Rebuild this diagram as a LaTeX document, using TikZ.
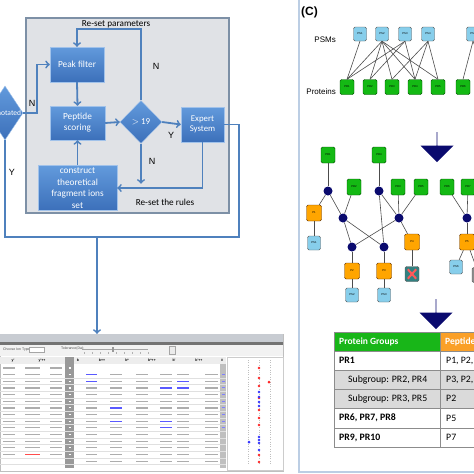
\documentclass[tikz,border=0pt]{standalone}
\usepackage{fontspec}
\setmainfont{Carlito}
\newfontfamily\arialfont{Liberation Sans}
\usepackage{tikz}
\usetikzlibrary{shapes.geometric,shapes.arrows,arrows,calc}
\definecolor{flowblue}{RGB}{79,129,189}
\definecolor{boxtop}{RGB}{98,154,220}
\definecolor{boxbot}{RGB}{60,112,186}
\definecolor{panelgray}{RGB}{224,226,230}
\definecolor{panelline}{RGB}{125,144,166}
\definecolor{psmblue}{RGB}{135,206,235}
\definecolor{protgreen}{RGB}{20,185,20}
\definecolor{peporange}{RGB}{255,165,0}
\definecolor{dotnavy}{RGB}{10,10,110}
\definecolor{framecol}{RGB}{188,206,228}
\definecolor{hdrgreen}{RGB}{24,182,24}
\definecolor{hdrorange}{RGB}{250,160,40}
\definecolor{rowgray}{RGB}{218,218,218}
\definecolor{shotgray}{RGB}{200,204,210}

\begin{document}
\begin{tikzpicture}[
        x=1pt, y=-1pt,
        fbox/.style={rectangle, draw=boxtop!60!white, top color=boxtop, bottom color=boxbot, text=white, align=center, inner sep=1pt, font=\fontsize{9.3}{11}\selectfont},
        fdiam/.style={diamond, draw=boxtop!60!white, top color=boxtop, bottom color=boxbot, text=white, inner sep=0pt, font=\fontsize{9}{10}\selectfont},
        flow/.style={draw=flowblue, line width=1.8pt},
        yn/.style={font=\arialfont\fontsize{9}{10}\selectfont},
        note/.style={font=\fontsize{9.2}{10}\selectfont},
        psm/.style={rectangle, rounded corners=1.5pt, draw=black!65, fill=psmblue, minimum width=13pt, minimum height=14pt, inner sep=0pt, font=\arialfont\fontsize{2.8}{3}\selectfont},
        prot/.style={psm, fill=protgreen, draw=green!30!black},
        pep/.style={psm, fill=peporange, draw=orange!40!black},
        hub/.style={circle, fill=dotnavy, minimum size=9pt, inner sep=0pt},
        link/.style={draw=black!70, line width=0.6pt},
        bigarrow/.style={single arrow, fill=dotnavy, shape border rotate=270, minimum width=33pt, minimum height=30pt, single arrow head extend=8pt, inner sep=0pt},
        cellbar/.style={draw=black!32, line width=1.2pt},
        hdr/.style={font=\arialfont\fontsize{3.5}{4}\selectfont, inner sep=0pt},
        cell/.style={font=\fontsize{9.8}{11}\selectfont, anchor=west, inner sep=0pt}
    ]
        \useasboundingbox (0,0) rectangle (474,474);
        \clip (0,0) rectangle (474,474);

        % search loop
        \fill[panelgray] (26,18) rectangle (229,213);
        \draw[panelline, line width=1.1pt] (26,18) rectangle (229,213);

        \node[fbox, minimum width=54pt, minimum height=35pt] (pf) at (77,64.5) {Peak filter};
        \node[fbox, minimum width=55pt, minimum height=34pt] (ps) at (77.5,123) {Peptide\\scoring};
        \node[fdiam, minimum width=42pt, minimum height=43pt] (gt) at (141,122) {$>$ 19};
        \node[fbox, minimum width=43pt, minimum height=35pt, font=\fontsize{8.8}{10.5}\selectfont] (es) at (202.5,124.5) {Expert\\System};
        \node[fbox, minimum width=79pt, minimum height=45pt, inner sep=0pt, font=\fontsize{9.3}{11.4}\selectfont] (ct) at (77.5,188) {construct\\theoretical\\fragment ions\\set};
        \node[fdiam, minimum width=36pt, minimum height=54pt, font=\fontsize{7.5}{8}\selectfont] (acc) at (5,113) {\makebox[0pt]{Annotated}};

        \coordinate (mrg) at (97,237);
        \coordinate (loopr) at (239,237);

        \draw[flow,->] (acc.east) -- ++(14,0) |- (pf.west);
        \draw[flow,->] (pf.south) -- (ps.north);
        \draw[flow,->] (ps.east) -- (gt.west);
        \draw[flow,->] (gt.east) -- (es.west);
        \draw[flow,->] (gt.north) -- ++(0,-71) -| (pf.north);
        \draw[flow,->] (gt.south) -- ++(0,40);
        \draw[flow,->] (es.south) |- (ct.east);
        \draw[flow,->] (ct.north) -- (ps.south);
        \draw[flow] (es.east) -| (loopr) -| (acc.south);

        \node[note] (rsp) at (116,24.5) {Re-set parameters};
        \node[note] (rsr) at (165,202) {Re-set the rules};
        \node[yn] at (32,103) {N};
        \node[yn] at (156,66) {N};
        \node[yn] at (152,161) {N};
        \node[yn] at (171,135) {Y};
        \node[yn] at (12,172) {Y};

        % result screenshot
        \node[rectangle, draw=black!25, fill=white, minimum width=283pt, minimum height=137pt, inner sep=0pt] (shot) at (141.5,402.5) {};
        \draw[flow,->] (mrg) -- (mrg |- shot.north);
        \fill[shotgray] (0,334) rectangle (283,342);
        \fill[black!55] (0,342) rectangle (283,344.5);
        \fill[black!5] (0,344.5) rectangle (283,356);
        \node[hdr, anchor=west, text=black!70] at (3,350) {Choose Ion Type:};
        \draw[black!35, fill=white] (29,347.5) rectangle (44,352.5);
        \node[hdr, anchor=west, text=black!70] at (61,349) {Tolerance(Da):};
        \draw[black!35, line width=0.8pt] (82,349) -- (148,349);
        \foreach \t in {84,92,...,148} \draw[black!30, line width=0.4pt] (\t,352) -- (\t,353.5);
        \fill[black!40] (112,347) rectangle (114,351.5);
        \draw[black!35, fill=black!8] (169,346) rectangle (175,354);
        \fill[black!7] (0,357) rectangle (226,364);
        \foreach \h/\x in {{y'}/13,{y'++}/42,seq/69,b/78,b++/102,b*/127,b*++/152,b'/174,b'++/199,\#/222}
            \node[hdr, font=\arialfont\bfseries\fontsize{3.5}{4}\selectfont] at (\x,360.5) {\h};
        \fill[black!40] (65,357) rectangle (74,468);
        \fill[black!25] (220,364) rectangle (226,468);
        \foreach \k in {0,...,13} {
            \pgfmathsetmacro\yy{368+6.65*\k}
            \foreach \a/\b in {3/15,25/40,50/62}
                \draw[cellbar] (\a,\yy) -- (\b,\yy);
            \draw[white, line width=1.1pt] (68.5,\yy) -- (70.5,\yy);
        }
        \foreach \k in {1,...,14} {
            \pgfmathsetmacro\yy{368+6.65*\k}
            \foreach \a/\b in {86/97,110/122,136/148,160/172,177/189,205/218}
                \draw[cellbar] (\a,\yy) -- (\b,\yy);
            \draw[black!12, line width=0.3pt] (0,\yy+3.3) -- (226,\yy+3.3);
        }
        \foreach \k/\a/\b in {1/86/97,2/86/97,2/177/189,3/160/172,3/177/189,6/110/122,8/110/122,8/160/172,9/160/172}
            \draw[cellbar, draw=blue!65] (\a,368+6.65*\k) -- (\b,368+6.65*\k);
        \draw[cellbar, draw=red!70] (25,454.5) -- (40,454.5);
        \foreach \k in {1,...,9}
            \draw[blue!50, line width=1pt] (222,368+6.65*\k) -- (224.5,368+6.65*\k);
        % spectrum plot
        \draw[black!20, fill=white] (227,357) rectangle (283,470);
        \foreach \x in {248,259,270}
            \draw[black!25, line width=0.4pt, dotted] (\x,360) -- (\x,465);
        \foreach \y in {368,378,386,398,410,418,425,455,462}
            \fill[red!85] (259,\y) circle (1.3pt);
        \foreach \y in {392,397,402,406,437,440,443,450}
            \fill[blue!80] (259,\y) circle (1.3pt);
        \fill[blue!80] (249,442) circle (1.5pt);
        \fill[red!85] (269,382) circle (1.5pt);

        % panel (C)
        \draw[framecol, line width=2pt] (299,-2) -- (299,472) -- (476,472);
        \node[font=\arialfont\bfseries\fontsize{12}{13}\selectfont, anchor=west, inner sep=0pt] (lblc) at (301,12) {(C)};
        \node[font=\arialfont\fontsize{8}{9}\selectfont, anchor=east, inner sep=0pt] (psms) at (336,40) {PSMs};
        \node[font=\arialfont\fontsize{8}{9}\selectfont, anchor=east, inner sep=0pt] (prots) at (336,92) {Proteins};

        \node[psm] (tPS1) at (360,34) {PS1};
        \node[psm] (tPS2) at (382,34) {PS2};
        \node[psm] (tPS3) at (405,34) {PS3};
        \node[psm] (tPS4) at (428,34) {PS4};
        \node[psm] (tPS5) at (473,34) {PS5};
        \node[prot, minimum width=14pt, minimum height=15pt] (tPR1) at (347,87) {PR1};
        \node[prot, minimum width=14pt, minimum height=15pt] (tPR2) at (370,87) {PR2};
        \node[prot, minimum width=14pt, minimum height=15pt] (tPR3) at (392,87) {PR3};
        \node[prot, minimum width=14pt, minimum height=15pt] (tPR4) at (415,87) {PR4};
        \node[prot, minimum width=14pt, minimum height=15pt] (tPR5) at (438,87) {PR5};
        \node[prot, minimum width=14pt, minimum height=15pt] (tPR6) at (463,87) {PR6};
        \coordinate (tPR7) at (488,80);
        \foreach \s/\p in {1/1,2/1,2/2,2/3,2/4,2/5,3/1,3/2,3/4,4/3,4/4,4/5,5/6}
            \draw[link] (tPS\s.south) -- (tPR\p.north);
        \draw[link] (tPS5.south) -- (tPR7);

        \node[bigarrow] (arr1) at (437,147) {};

        \node[prot, minimum width=14pt, minimum height=16pt] (mPR1) at (328,155) {PR1};
        \node[prot, minimum width=14pt, minimum height=16pt] (mPR4) at (379,155) {PR4};
        \node[prot, minimum width=14pt, minimum height=16pt] (mPR2) at (354,187) {PR2};
        \node[prot, minimum width=14pt, minimum height=16pt] (mPR3) at (398,187) {PR3};
        \node[prot, minimum width=14pt, minimum height=16pt] (mPR5) at (421,187) {PR5};
        \node[prot, minimum width=14pt, minimum height=16pt] (mPR6) at (447,187) {PR6};
        \node[prot, minimum width=14pt, minimum height=16pt] (mPR7) at (468,187) {PR7};
        \node[hub] (h1) at (328,191) {};
        \node[hub] (h2) at (379,191) {};
        \node[hub] (h3) at (343,218) {};
        \node[hub] (h4) at (399,218) {};
        \node[hub] (h5) at (467,218) {};
        \node[hub] (h6) at (352,247) {};
        \node[hub] (h7) at (384,247) {};
        \node[pep, minimum width=15pt, minimum height=16pt] (mP1) at (314,213) {P1};
        \node[pep, minimum width=15pt, minimum height=16pt] (mP4) at (412,242) {P4};
        \node[pep, minimum width=15pt, minimum height=16pt] (mP5) at (467,242) {P5};
        \node[pep, minimum width=15pt, minimum height=16pt] (mP2) at (352,271) {P2};
        \node[pep, minimum width=15pt, minimum height=16pt] (mP3) at (384,271) {P3};
        \node[psm] (mPS1) at (314,243) {PS1};
        \node[psm] (mPS2) at (352,295) {PS2};
        \node[psm] (mPS3) at (384,295) {PS3};
        \node[psm] (mPS6) at (456,267) {PS6};
        \node[psm, fill=teal!60!gray, minimum width=14pt, minimum height=15pt] (mX) at (412,274) {};
        \node[psm, fill=black!45, minimum width=14pt, minimum height=15pt] (mG) at (479,275) {};
        \draw[red!65, line width=2pt] ($(mX.north west)+(3,3)$) -- ($(mX.south east)+(-3,-3)$);
        \draw[red!65, line width=2pt] ($(mX.north east)+(-3,3)$) -- ($(mX.south west)+(3,-3)$);

        \foreach \a/\b in {mPR1/h1,h1/mP1,h1/h3,mPR2/h3,h3/h6,h3/h7,mPR4/h2,h2/h7,h2/h4,mPR3/h4,mPR5/h4,h4/h6,h4/mP4,h6/mP2,h7/mP3,mP1/mPS1,mP2/mPS2,mP3/mPS3,mP4/mX,mPR6/h5,mPR7/h5,h5/mP5,mP5/mPS6,mP5/mG}
            \draw[link] (\a) -- (\b);

        \node[bigarrow] (arr2) at (436,314) {};

        % protein group table
        \fill[hdrgreen] (334,332) rectangle (440,351);
        \fill[hdrorange] (440,332) rectangle (476,351);
        \fill[rowgray] (334,370) rectangle (476,408);
        \draw[black!45, line width=0.8pt] (476,332) -- (334,332) -- (334,447) -- (476,447);
        \foreach \y in {351,370,389,408,428}
            \draw[black!45, line width=0.8pt] (334,\y) -- (476,\y);
        \draw[black!45, line width=0.8pt] (440,332) -- (440,447);

        \node[cell, font=\bfseries\fontsize{9.5}{11}\selectfont, text=white] (thg) at (339,341.5) {Protein Groups};
        \node[cell, font=\bfseries\fontsize{9.5}{11}\selectfont, text=white] (thp) at (445,341.5) {Peptides};
        \node[cell, font=\bfseries\fontsize{9.8}{11}\selectfont] (g1) at (339,360.5) {PR1};
        \node[cell] (g2) at (348,379.5) {Subgroup: PR2, PR4};
        \node[cell] (g3) at (348,398.5) {Subgroup: PR3, PR5};
        \node[cell, font=\bfseries\fontsize{9.8}{11}\selectfont] (g4) at (339,418) {PR6, PR7, PR8};
        \node[cell, font=\bfseries\fontsize{9.8}{11}\selectfont] (g5) at (339,437.5) {PR9, PR10};
        \node[cell] (p1) at (446,360.5) {P1, P2,};
        \node[cell] (p2) at (446,379.5) {P3, P2,};
        \node[cell] (p3) at (446,398.5) {P2};
        \node[cell] (p4) at (446,418) {P5};
        \node[cell] (p5) at (446,437.5) {P7};
    \end{tikzpicture}
\end{document}
